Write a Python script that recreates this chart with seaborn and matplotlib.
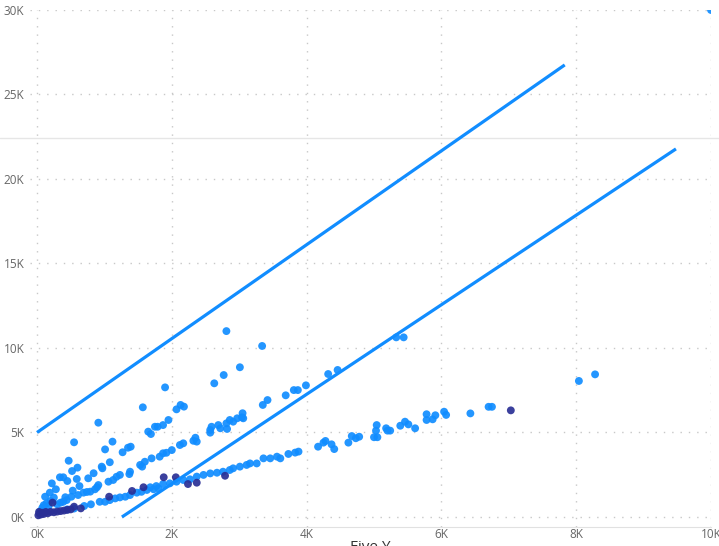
import numpy as np
import pandas as pd
import matplotlib

matplotlib.use("Agg")
import matplotlib.pyplot as plt
import seaborn as sns
from matplotlib.lines import Line2D
from matplotlib.ticker import FuncFormatter, MultipleLocator

sns.set_style("white")
plt.rcParams["font.family"] = ["Open Sans", "DejaVu Sans"]

# values in thousands
light_x = [
    0.05, 0.08, 0.10, 0.14, 0.17, 0.20, 0.25, 0.12, 0.19, 0.28, 0.22, 0.30, 0.35, 0.39,
    0.44, 0.51, 0.61, 0.69, 0.74, 0.79, 0.86, 0.89, 0.91, 0.34, 0.39, 0.45, 0.53, 0.63,
    0.42, 0.47, 0.52, 0.60, 0.55, 0.59, 0.76, 0.84, 0.91, 0.97, 1.01, 1.08, 1.12, 1.27,
    1.35, 1.39, 0.96,
    0.45, 0.55, 0.70, 0.80, 0.93, 1.01, 1.08, 1.16, 1.23, 1.31, 1.38, 1.48, 1.55, 1.63,
    1.68, 1.73, 1.77, 1.80, 1.87, 1.97, 2.07, 2.17, 2.27, 2.37, 2.47, 2.57, 2.67, 2.76,
    2.86, 2.91, 3.01, 3.11, 3.16, 3.26, 3.36, 3.46, 3.56, 3.61, 3.73, 3.83, 3.88, 4.17,
    4.25, 4.28, 4.37, 4.41, 4.62, 4.67, 4.73, 4.78, 5.00, 5.05, 5.03, 5.04, 5.18, 5.20,
    5.24, 5.39, 5.46, 5.51, 5.61, 5.78, 5.78, 5.87, 5.91, 6.04, 6.07, 6.43, 6.70, 6.75,
    1.06, 1.13, 1.18, 1.23, 1.38, 1.37, 1.53, 1.56, 1.60, 1.70, 1.82, 1.87, 1.92, 2.00,
    2.12, 2.17, 2.32, 2.35, 2.37, 2.57, 2.59, 2.57, 2.69, 2.72, 2.81, 2.82, 2.86, 2.91,
    2.97, 3.04, 3.05, 3.06, 3.35, 3.42, 3.69, 3.81, 3.87, 3.99, 4.32, 4.46, 5.33, 5.44,
    1.57, 1.65, 1.69, 1.75, 1.79, 1.87, 1.90, 1.95, 2.07, 2.13, 2.18, 2.63, 2.77, 3.01,
    2.81, 3.34,
    8.04, 8.28, 10.0,
]
light_y = [
    0.35, 0.55, 0.70, 0.80, 0.62, 0.95, 1.15, 1.20, 1.44, 1.64, 1.99, 0.75, 0.85, 0.90,
    1.00, 1.20, 1.30, 1.44, 1.48, 1.50, 1.64, 1.76, 1.89, 2.35, 2.35, 2.13, 1.56, 1.83,
    1.17, 3.33, 2.72, 2.92, 4.42, 2.25, 2.29, 2.59, 5.58, 2.88, 4.00, 3.24, 4.46, 3.83,
    4.10, 4.16, 2.98,
    0.45, 0.50, 0.65, 0.75, 0.90, 0.90, 1.00, 1.10, 1.16, 1.20, 1.30, 1.44, 1.49, 1.60,
    1.76, 1.64, 1.83, 1.70, 1.95, 1.99, 2.09, 2.19, 2.23, 2.39, 2.49, 2.58, 2.62, 2.68,
    2.78, 2.88, 2.98, 3.08, 3.17, 3.17, 3.47, 3.47, 3.57, 3.47, 3.73, 3.81, 3.87, 4.16,
    4.40, 4.50, 4.30, 4.02, 4.40, 4.79, 4.66, 4.75, 4.72, 4.72, 5.11, 5.44, 5.25, 5.11,
    5.11, 5.40, 5.64, 5.48, 5.25, 6.08, 5.74, 5.78, 6.02, 6.23, 6.04, 6.13, 6.52, 6.52,
    2.09, 2.19, 2.38, 2.49, 2.68, 2.54, 3.08, 2.98, 3.27, 3.47, 3.57, 3.77, 3.80, 3.96,
    4.26, 4.36, 4.51, 4.69, 4.46, 5.15, 5.34, 4.99, 5.44, 5.25, 5.54, 5.21, 5.74, 5.64,
    5.84, 5.90, 6.14, 5.84, 6.63, 6.92, 7.20, 7.51, 7.51, 7.79, 8.46, 8.70, 10.63, 10.63,
    6.49, 5.05, 4.91, 5.34, 5.34, 5.44, 7.67, 5.74, 6.37, 6.63, 6.53, 7.91, 8.40, 8.86,
    11.00, 10.12,
    8.05, 8.44, 30.0,
]
dark_x = [
    0.02, 0.04, 0.06, 0.08, 0.10, 0.13, 0.16, 0.20, 0.25, 0.30, 0.35, 0.40, 0.45, 0.50,
    0.03, 0.23, 0.55, 0.65, 1.07, 1.41, 1.58, 1.88, 2.06, 2.24, 2.37, 2.79, 7.03,
]
dark_y = [
    0.10, 0.20, 0.15, 0.25, 0.18, 0.30, 0.22, 0.30, 0.28, 0.32, 0.35, 0.38, 0.42, 0.45,
    0.30, 0.85, 0.61, 0.51, 1.20, 1.54, 1.76, 2.35, 2.35, 1.95, 2.03, 2.44, 6.31,
]

# trend lines (endpoints, thousands)
upper_line_x = [0.0, 7.83]
upper_line_y = [5.0, 26.75]
lower_line_x = [1.26, 9.48]
lower_line_y = [0.0, 21.78]

df = pd.DataFrame({
    "x": np.array(light_x + dark_x) * 1000,
    "y": np.array(light_y + dark_y) * 1000,
    "group": ["light"] * len(light_x) + ["dark"] * len(dark_x),
})
palette = {"light": "#118DFF", "dark": "#2A2F95"}

W, H = 719, 546
fig = plt.figure(figsize=(W / 100, H / 100), dpi=100)
ax = fig.add_axes([30 / W, (H - 527) / H, (711 - 30) / W, (527 - 10) / H])
ax.set_facecolor("none")

# faint full-width rule behind the chart
fig.add_artist(Line2D([0, 1], [1 - 138 / H] * 2, color="#E6E6E6", lw=1,
                      transform=fig.transFigure, zorder=-5))

sns.scatterplot(data=df, x="x", y="y", hue="group", palette=palette, s=32,
                linewidth=0, alpha=0.92, legend=False, ax=ax, zorder=3)
ax.plot(np.array(upper_line_x) * 1000, np.array(upper_line_y) * 1000,
        color="#118DFF", lw=2.3, zorder=4, solid_capstyle="butt")
ax.plot(np.array(lower_line_x) * 1000, np.array(lower_line_y) * 1000,
        color="#118DFF", lw=2.3, zorder=4, solid_capstyle="butt")

ax.set_xlim(-104, 10000)
ax.set_ylim(-592, 30000)
ax.xaxis.set_major_locator(MultipleLocator(2000))
ax.yaxis.set_major_locator(MultipleLocator(5000))
fmt = FuncFormatter(lambda v, p: f"{v / 1000:g}K")
ax.xaxis.set_major_formatter(fmt)
ax.yaxis.set_major_formatter(fmt)
ax.grid(True, color="#C8C8C8", linestyle=(0, (1, 5)), lw=1)
ax.set_axisbelow(True)
for s in ["top", "right", "left"]:
    ax.spines[s].set_visible(False)
ax.spines["bottom"].set_color("#E1E1E1")
ax.tick_params(axis="both", length=0, labelsize=8.5, labelcolor="#666666")
ax.tick_params(axis="y", pad=4)
ax.tick_params(axis="x", pad=1)
ax.set_xlabel("Five Y", fontsize=11, color="#333333", labelpad=-1)
ax.set_ylabel("")

fig.savefig("out.png", dpi=100)
